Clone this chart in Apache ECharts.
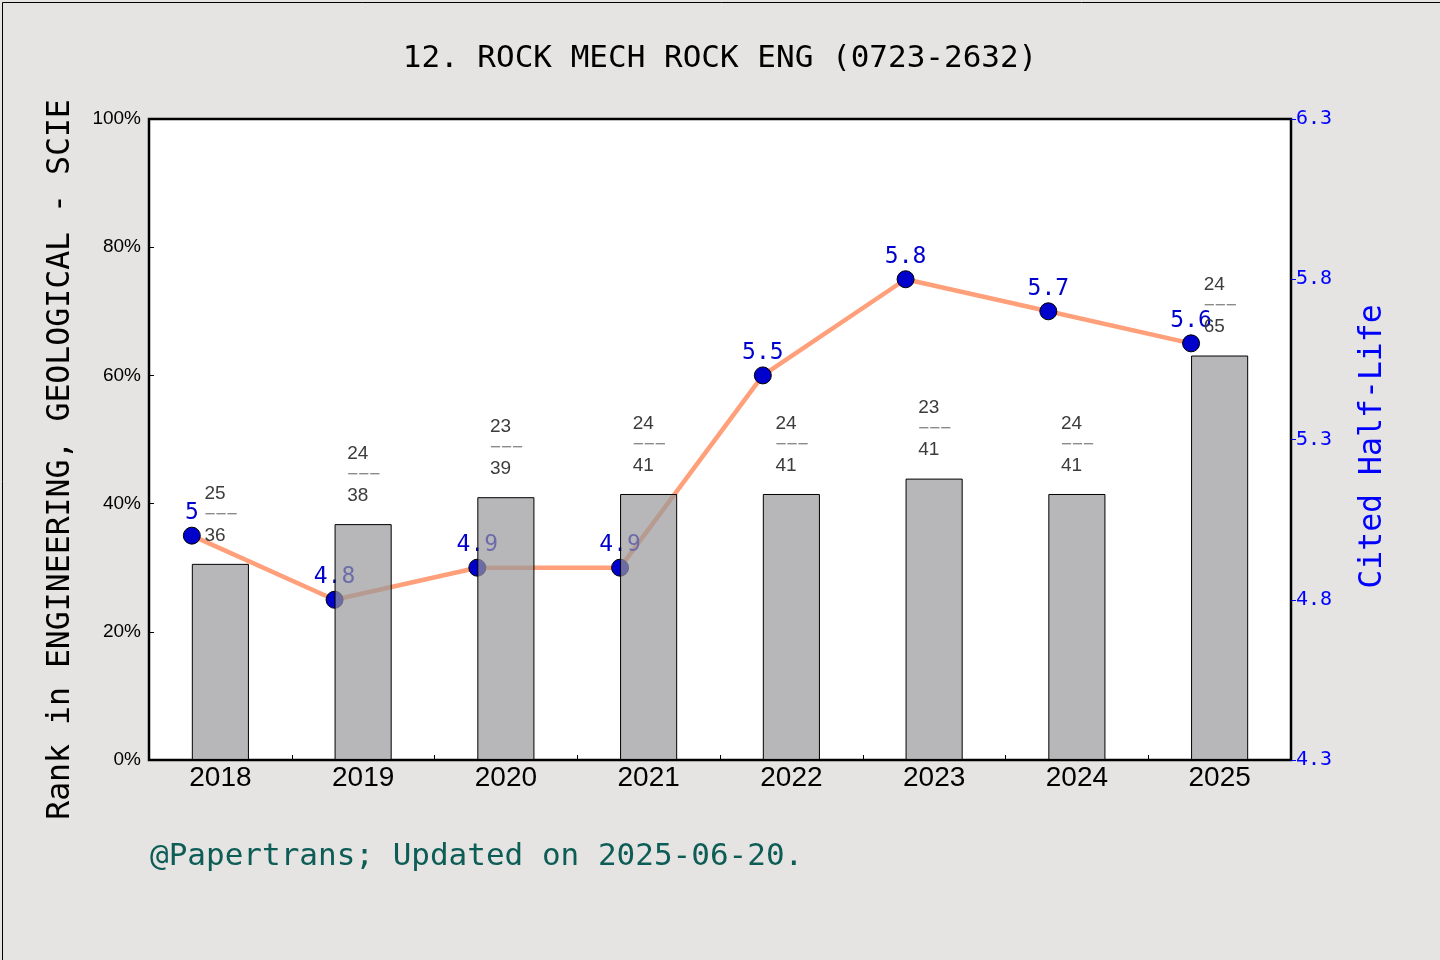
<!DOCTYPE html>
<html>
<head>
<meta charset="utf-8">
<script src="https://cdn.jsdelivr.net/npm/echarts@6/dist/echarts.min.js"></script>
<style>
  html, body { margin: 0; padding: 0; background: #e5e4e2; }
  #main { width: 1440px; height: 960px; }
</style>
</head>
<body>
<div id="main"></div>
<script>
// data
var years = ['2018', '2019', '2020', '2021', '2022', '2023', '2024', '2025'];
var rankPct = [30.6, 36.8, 41.0, 41.5, 41.5, 43.9, 41.5, 63.1];   // bars, left axis (%)
var ranks = [25, 24, 23, 24, 24, 23, 24, 24];
var totals = [36, 38, 39, 41, 41, 41, 41, 65];
var halfLife = [5, 4.8, 4.9, 4.9, 5.5, 5.8, 5.7, 5.6];           // line, right axis
var pctTicks = [0, 20, 40, 60, 80, 100];
var hlTicks = [4.3, 4.8, 5.3, 5.8, 6.3];

var MONO = '"DejaVu Sans Mono", monospace';
var SANS = '"Liberation Sans", Arial, sans-serif';
var LINE_SHIFT = -0.2; // line points sit on the left edge of each bar

var chart = echarts.init(document.getElementById('main'));

var option = {
  backgroundColor: '#e5e4e2',
  animation: false,
  title: {
    text: '12. ROCK MECH ROCK ENG (0723-2632)',
    left: 'center',
    top: 43,
    padding: 0,
    textStyle: { fontFamily: MONO, fontSize: 31, fontWeight: 'normal', color: '#000' }
  },
  grid: {
    left: 149, right: 149, top: 119, bottom: 200,
    show: true,
    backgroundColor: '#fff',
    borderColor: '#000',
    borderWidth: 2.5
  },
  xAxis: [
    {
      type: 'category',
      data: years,
      axisLine: { show: false, onZero: false },
      axisTick: { show: true, inside: true, length: 5, lineStyle: { color: '#000' } },
      axisLabel: { fontFamily: SANS, fontSize: 28, color: '#000', margin: 4 },
      splitLine: { show: false }
    },
    {
      type: 'value',
      min: -0.5,
      max: years.length - 0.5,
      show: false,
      axisLine: { onZero: false }
    }
  ],
  yAxis: [
    {
      type: 'value',
      min: pctTicks[0],
      max: pctTicks[pctTicks.length - 1],
      interval: 20,
      position: 'left',
      name: 'Rank in ENGINEERING, GEOLOGICAL - SCIE',
      nameLocation: 'middle',
      nameGap: 72,
      nameRotate: 90,
      nameTextStyle: { fontFamily: MONO, fontSize: 31.5, color: '#000', padding: [0, 40, 0, 0] },
      axisLine: { show: false, onZero: false },
      axisTick: { show: true, inside: true, length: 5, lineStyle: { color: '#000' } },
      axisLabel: { formatter: '{value}%', fontFamily: SANS, fontSize: 19, color: '#000', margin: 8 },
      splitLine: { show: false }
    },
    {
      type: 'value',
      min: hlTicks[0],
      max: hlTicks[hlTicks.length - 1],
      interval: 0.5,
      position: 'right',
      name: 'Cited Half-Life',
      nameLocation: 'middle',
      nameGap: 66,
      nameRotate: 90,
      nameTextStyle: { fontFamily: MONO, fontSize: 31.5, color: '#0000ff', padding: [0, 14, 0, 0] },
      axisLine: { show: false, onZero: false },
      axisTick: { show: true, length: 5, lineStyle: { color: '#0000ff' } },
      axisLabel: {
        formatter: function (v) { return v.toFixed(1); },
        fontFamily: MONO, fontSize: 20, color: '#0000ff', margin: 5
      },
      splitLine: { show: false }
    }
  ],
  series: [
    {
      type: 'line',
      xAxisIndex: 1,
      yAxisIndex: 1,
      z: 2,
      data: halfLife.map(function (v, i) { return [i + LINE_SHIFT, v]; }),
      lineStyle: { color: '#ffa07a', width: 4.5 },
      symbol: 'circle',
      symbolSize: 17,
      itemStyle: { color: '#0000cd', borderColor: '#000', borderWidth: 1 },
      label: {
        show: true,
        position: 'top',
        distance: 2,
        formatter: function (p) { return String(p.value[1]); },
        fontFamily: MONO,
        fontSize: 23,
        color: '#0000cd'
      }
    },
    {
      type: 'bar',
      xAxisIndex: 0,
      yAxisIndex: 0,
      z: 3,
      barWidth: '40%',
      data: rankPct,
      itemStyle: { color: 'rgba(152,153,155,0.7)', borderColor: '#000', borderWidth: 1 },
      label: {
        show: true,
        position: 'top',
        distance: 18,
        formatter: function (p) {
          var i = p.dataIndex;
          return '{n|' + ranks[i] + '}\n{d|−−−}\n{n|' + totals[i] + '}';
        },
        rich: {
          n: { fontFamily: SANS, fontSize: 19, color: '#3c3c3c', width: 32, align: 'left', lineHeight: 21 },
          d: { fontFamily: SANS, fontSize: 19, color: '#8a8a8a', width: 32, align: 'left', lineHeight: 21 }
        }
      }
    }
  ],
  graphic: [
    {
      type: 'text',
      left: 150,
      top: 841,
      style: {
        text: '@Papertrans; Updated on 2025-06-20.',
        font: '31px ' + MONO,
        fill: '#0d5c55'
      }
    },
    {
      type: 'rect',
      left: 0,
      top: 0,
      shape: { width: 1439, height: 959 },
      style: { fill: 'none', stroke: '#000', lineWidth: 1 },
      silent: true
    }
  ]
};

chart.setOption(option);
window.addEventListener('resize', function () { chart.resize(); });
</script>
</body>
</html>
